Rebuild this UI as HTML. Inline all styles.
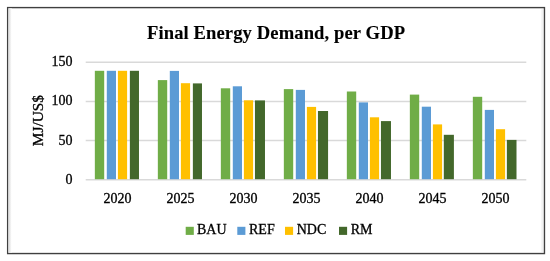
<!DOCTYPE html>
<html><head><meta charset="utf-8"><style>
html,body{margin:0;padding:0;background:#fff;}
svg{display:block;will-change:transform;}
text{font-family:"Liberation Serif",serif;fill:#000;stroke:#000;stroke-width:0.3px;}
</style></head><body>
<svg width="550" height="261" viewBox="0 0 550 261">
<rect x="0" y="0" width="550" height="261" fill="#fff"/>
<rect x="7.65" y="7.6" width="536.8" height="245.95" fill="none" stroke="#404040" stroke-width="1.4"/>
<defs><linearGradient id="lg1" x1="0" x2="1" y1="0" y2="0"><stop offset="0" stop-color="#d6d6d6"/><stop offset="1" stop-color="#ffffff"/></linearGradient></defs>
<rect x="8.3" y="8.3" width="3.4" height="244.4" fill="url(#lg1)"/>
<line x1="542.1" x2="542.1" y1="9" y2="252" stroke="#e8e8e8" stroke-width="1"/>
<text transform="translate(147.0,38.9)" style="stroke-width:0.1px;font-size:18.6px;font-weight:bold;letter-spacing:0.1px;">Final Energy Demand, per GDP</text>
<line x1="85.7" x2="526.3" y1="62.2" y2="62.2" stroke="#D9D9D9" stroke-width="1.5"/>
<line x1="85.7" x2="526.3" y1="101.6" y2="101.6" stroke="#D9D9D9" stroke-width="1.5"/>
<line x1="85.7" x2="526.3" y1="140.6" y2="140.6" stroke="#D9D9D9" stroke-width="1.5"/>
<line x1="85.7" x2="526.3" y1="179.7" y2="179.7" stroke="#D9D9D9" stroke-width="1.5"/>
<rect x="94.84" y="70.80" width="9.36" height="108.40" fill="#70AD47"/>
<rect x="106.80" y="70.80" width="9.20" height="108.40" fill="#5B9BD5"/>
<rect x="117.90" y="70.80" width="9.20" height="108.40" fill="#FFC000"/>
<rect x="129.87" y="70.80" width="9.11" height="108.40" fill="#43682B"/>
<rect x="157.84" y="80.10" width="9.36" height="99.10" fill="#70AD47"/>
<rect x="169.80" y="70.90" width="9.20" height="108.30" fill="#5B9BD5"/>
<rect x="180.90" y="83.20" width="9.20" height="96.00" fill="#FFC000"/>
<rect x="192.87" y="83.40" width="9.11" height="95.80" fill="#43682B"/>
<rect x="220.84" y="88.30" width="9.36" height="90.90" fill="#70AD47"/>
<rect x="232.80" y="86.30" width="9.20" height="92.90" fill="#5B9BD5"/>
<rect x="243.90" y="100.30" width="9.20" height="78.90" fill="#FFC000"/>
<rect x="254.95" y="100.40" width="10.03" height="78.80" fill="#43682B"/>
<rect x="283.84" y="89.10" width="9.36" height="90.10" fill="#70AD47"/>
<rect x="295.80" y="89.90" width="9.20" height="89.30" fill="#5B9BD5"/>
<rect x="306.90" y="106.90" width="9.20" height="72.30" fill="#FFC000"/>
<rect x="317.95" y="111.00" width="10.12" height="68.20" fill="#43682B"/>
<rect x="346.84" y="91.50" width="9.36" height="87.70" fill="#70AD47"/>
<rect x="358.80" y="102.40" width="9.20" height="76.80" fill="#5B9BD5"/>
<rect x="369.90" y="117.30" width="9.20" height="61.90" fill="#FFC000"/>
<rect x="380.95" y="121.10" width="10.03" height="58.10" fill="#43682B"/>
<rect x="409.84" y="94.60" width="9.36" height="84.60" fill="#70AD47"/>
<rect x="421.80" y="106.70" width="9.20" height="72.50" fill="#5B9BD5"/>
<rect x="432.90" y="124.40" width="9.20" height="54.80" fill="#FFC000"/>
<rect x="443.80" y="134.80" width="10.10" height="44.40" fill="#43682B"/>
<rect x="472.84" y="96.80" width="9.36" height="82.40" fill="#70AD47"/>
<rect x="484.80" y="109.90" width="9.20" height="69.30" fill="#5B9BD5"/>
<rect x="495.90" y="129.20" width="9.20" height="50.00" fill="#FFC000"/>
<rect x="506.86" y="139.90" width="9.64" height="39.30" fill="#43682B"/>
<text transform="translate(72.5,65.9)" text-anchor="end" style="font-size:14px;">150</text>
<text transform="translate(72.5,104.9)" text-anchor="end" style="font-size:14px;">100</text>
<text transform="translate(72.5,144.9)" text-anchor="end" style="font-size:14px;">50</text>
<text transform="translate(72.5,183.9)" text-anchor="end" style="font-size:14px;">0</text>
<text transform="translate(117.5,203.3)" text-anchor="middle" style="font-size:14px;">2020</text>
<text transform="translate(180.5,203.3)" text-anchor="middle" style="font-size:14px;">2025</text>
<text transform="translate(243.5,203.3)" text-anchor="middle" style="font-size:14px;">2030</text>
<text transform="translate(306.5,203.3)" text-anchor="middle" style="font-size:14px;">2035</text>
<text transform="translate(369.5,203.3)" text-anchor="middle" style="font-size:14px;">2040</text>
<text transform="translate(432.5,203.3)" text-anchor="middle" style="font-size:14px;">2045</text>
<text transform="translate(495.5,203.3)" text-anchor="middle" style="font-size:14px;">2050</text>
<text transform="translate(42.7,120.6) rotate(-90)" text-anchor="middle" style="font-size:15.4px;">MJ/US$</text>
<rect x="185.7" y="226.8" width="8.1" height="8.1" fill="#70AD47"/>
<text transform="translate(197.0,233.5)" style="font-size:14px;">BAU</text>
<rect x="237.3" y="226.8" width="8.1" height="8.1" fill="#5B9BD5"/>
<text transform="translate(249.0,233.5)" style="font-size:14px;">REF</text>
<rect x="285.0" y="226.8" width="8.1" height="8.1" fill="#FFC000"/>
<text transform="translate(296.7,233.5)" style="font-size:14px;">NDC</text>
<rect x="339.0" y="226.8" width="8.1" height="8.1" fill="#43682B"/>
<text transform="translate(350.7,233.5)" style="font-size:14px;">RM</text>
</svg>
</body></html>
